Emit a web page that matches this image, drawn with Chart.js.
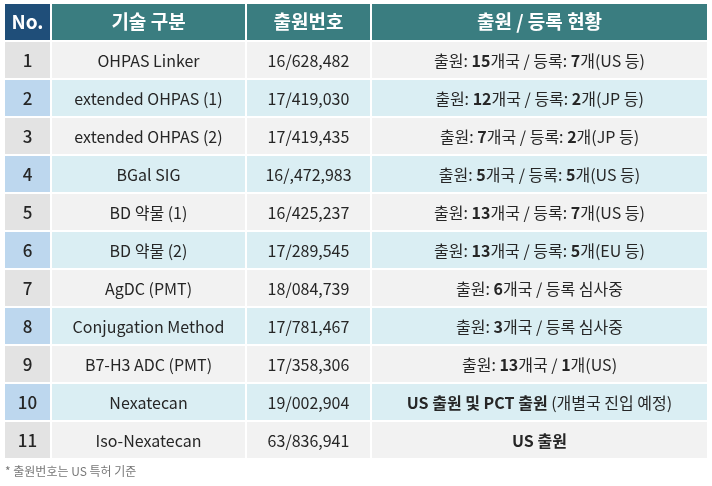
<!DOCTYPE html><html><head><meta charset="utf-8">
<script src="https://cdn.jsdelivr.net/npm/chart.js@4"></script>
<style>html,body{margin:0;padding:0;background:#fff}#w{width:712px;height:486px}</style></head><body><div id="w"><canvas id="c"></canvas></div>
<script>
const headers=['No.','기술 구분','출원번호','출원 / 등록 현황'];
const nums=['1','2','3','4','5','6','7','8','9','10','11'];
const techs=['OHPAS Linker','extended OHPAS (1)','extended OHPAS (2)','BGal SIG','BD 약물 (1)','BD 약물 (2)','AgDC (PMT)','Conjugation Method','B7-H3 ADC (PMT)','Nexatecan','Iso-Nexatecan'];
const appNos=['16/628,482','17/419,030','17/419,435','16/,472,983','16/425,237','17/289,545','18/084,739','17/781,467','17/358,306','19/002,904','63/836,941'];
// status segments: [text, bold]
const status=[
[['출원: ',0],['15',1],['개국 / 등록: ',0],['7',1],['개(US 등)',0]],
[['출원: ',0],['12',1],['개국 / 등록: ',0],['2',1],['개(JP 등)',0]],
[['출원: ',0],['7',1],['개국 / 등록: ',0],['2',1],['개(JP 등)',0]],
[['출원: ',0],['5',1],['개국 / 등록: ',0],['5',1],['개(US 등)',0]],
[['출원: ',0],['13',1],['개국 / 등록: ',0],['7',1],['개(US 등)',0]],
[['출원: ',0],['13',1],['개국 / 등록: ',0],['5',1],['개(EU 등)',0]],
[['출원: ',0],['6',1],['개국 / 등록 심사중',0]],
[['출원: ',0],['3',1],['개국 / 등록 심사중',0]],
[['출원: ',0],['13',1],['개국 / ',0],['1',1],['개(US)',0]],
[['US 출원 및 PCT 출원',1],[' (개별국 진입 예정)',0]],
[['US 출원',1]]
];
const colBounds=[[5,50],[52,245],[247,370],[372,707]];
const rows=['h'].concat(nums);
const F='"Noto Sans CJK KR","Noto Sans",sans-serif';
function color(col,row){
  if(row===0) return col===0?'#1f4e79':'#3a7d80';
  const even=row%2===0;
  if(col===0) return even?'#bdd7ee':'#e3e3e3';
  return even?'#daeef3':'#f2f2f2';
}
const datasets=colBounds.map((b,ci)=>({
  data:rows.map((r,ri)=>({x:b,y:r})),
  backgroundColor:ctx=>color(ci,ctx.dataIndex),
  borderWidth:0,borderSkipped:false,
  barPercentage:0.95,categoryPercentage:1,grouped:false
}));
const textPlugin={id:'txt',afterDatasetsDraw(ch){
  const c=ch.ctx,xs=ch.scales.x,ys=ch.scales.y;
  c.save();c.textBaseline='middle';
  const cx=i=>xs.getPixelForValue((colBounds[i][0]+colBounds[i][1])/2);
  let y=ys.getPixelForValue(0);
  c.fillStyle='#fff';c.textAlign='center';c.font='bold 19px '+F;
  headers.forEach((h,i)=>c.fillText(h,cx(i),y));
  c.fillStyle='#262626';
  nums.forEach((n,ri)=>{
    const yy=ys.getPixelForValue(ri+1)+1;
    c.textAlign='center';
    c.font='500 17px '+F;c.fillText(n,cx(0),yy);
    c.font='16px '+F;c.fillText(techs[ri],cx(1),yy);
    c.fillText(appNos[ri],cx(2),yy);
    const segs=status[ri];let w=0;
    segs.forEach(s=>{c.font=(s[1]?'bold ':'')+'16px '+F;w+=c.measureText(s[0]).width;});
    let x=cx(3)-w/2;c.textAlign='left';
    segs.forEach(s=>{c.font=(s[1]?'bold ':'')+'16px '+F;c.fillText(s[0],x,yy);x+=c.measureText(s[0]).width;});
  });
  c.fillStyle='#777';c.font='12px '+F;c.textAlign='left';
  c.fillText('* 출원번호는 US 특허 기준',5,471);
  c.restore();
}};
new Chart(document.getElementById('c'),{type:'bar',data:{labels:rows,datasets},
options:{indexAxis:'y',responsive:true,maintainAspectRatio:false,animation:false,
layout:{padding:{top:3,bottom:27,left:0,right:0}},
scales:{x:{type:'linear',min:0,max:712,display:false},y:{type:'category',display:false}},
plugins:{legend:{display:false},tooltip:{enabled:false}}},plugins:[textPlugin]});
</script></body></html>
